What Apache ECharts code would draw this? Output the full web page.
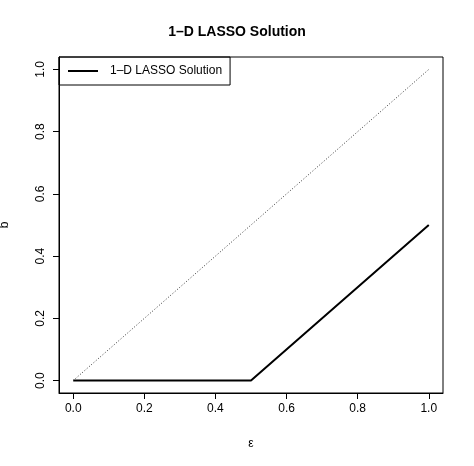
<!DOCTYPE html>
<html><head><meta charset="utf-8">
<script src="https://cdn.jsdelivr.net/npm/echarts@6/dist/echarts.min.js"></script>
<style>html,body{margin:0;padding:0;background:#fff}#c{width:474px;height:466px}</style>
</head><body><div id="c"></div>
<script>
var epsX = [0, 0.5, 1];
var lassoB = [0, 0, 0.5];
var diagX = [0, 1];
var diagY = [0, 1];
var tickVals = [0, 0.2, 0.4, 0.6, 0.8, 1.0];

function pairs(xs, ys){ return xs.map(function(x,i){ return [x, ys[i]]; }); }
var F = 'Liberation Sans, Arial, sans-serif';

var chart = echarts.init(document.getElementById('c'), null, {renderer: 'canvas'});
chart.setOption({
    animation: false,
    textStyle: {fontFamily: F},
    title: {text: '1\u2013D LASSO Solution', left: 'center', top: 20,
        textStyle: {fontFamily: F, fontSize: 14, fontWeight: 'bold', color: '#000'}},
    grid: {left: 59, right: 31, top: 57, bottom: 73, outerBoundsMode: 'none', containLabel: false,
        show: true, borderColor: '#000', borderWidth: 1, backgroundColor: 'transparent'},
    legend: {
        data: [{name: '1\u2013D LASSO Solution', icon: 'rect'}],
        left: 59, top: 57, orient: 'vertical',
        borderColor: '#000', borderWidth: 1, padding: [8, 8, 8, 9],
        itemWidth: 30, itemHeight: 2, itemGap: 0,
        textStyle: {fontFamily: F, fontSize: 12, color: '#000', padding: [0, 0, 0, 7]},
        itemStyle: {color: '#000'}
    },
    xAxis: {type: 'value', min: -0.04, max: 1.04,
        name: '\u03b5', nameLocation: 'middle', nameGap: 45,
        nameTextStyle: {fontFamily: F, fontSize: 12, color: '#000'},
        axisLine: {show: true, onZero: false, lineStyle: {color: '#000'}},
        axisTick: {show: true, length: 6, customValues: tickVals, lineStyle: {color: '#000'}},
        axisLabel: {customValues: tickVals, color: '#000', fontSize: 12, margin: 10,
            formatter: function(v){ return v.toFixed(1); }},
        splitLine: {show: false}},
    yAxis: {type: 'value', min: -0.04, max: 1.04,
        name: 'b', nameLocation: 'middle', nameGap: 48, nameRotate: 90,
        nameTextStyle: {fontFamily: F, fontSize: 12, color: '#000'},
        axisLine: {show: true, onZero: false, lineStyle: {color: '#000'}},
        axisTick: {show: true, length: 6, customValues: tickVals, lineStyle: {color: '#000'}},
        axisLabel: {customValues: tickVals, color: '#000', fontSize: 12, margin: 12, rotate: 90,
            formatter: function(v){ return v.toFixed(1); }},
        splitLine: {show: false}},
    series: [
        {name: '1\u2013D LASSO Solution', type: 'line', data: pairs(epsX, lassoB), showSymbol: false,
            lineStyle: {color: '#000', width: 2}, itemStyle: {color: '#000'}},
        {name: 'diag', type: 'line', data: pairs(diagX, diagY), showSymbol: false,
            lineStyle: {color: '#333', width: 1, type: [1, 2]}}
    ]
});
</script></body></html>
